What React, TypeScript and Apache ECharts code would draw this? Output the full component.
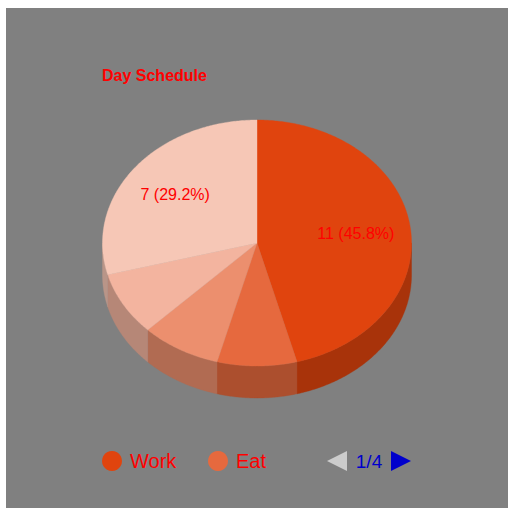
import React, { useEffect, useRef } from "react";
import * as echarts from "echarts";

const categories = ["Work", "Eat", "Commute", "Watch TV", "Sleep"];
const hours = [11, 2, 2, 2, 7];
const topColors = ["#e0440e", "#e6693e", "#ec8f6e", "#f3b49f", "#f6c7b6"];
const sideColors = ["#a8330a", "#ac4f2e", "#b16b52", "#b68777", "#b99588"];
const labelledSlices = ["Work", "Sleep"];
const legendItems = ["Work", "Eat"];
const pageText = "1/4";
const titleText = "Day Schedule";

const FONT = "'Liberation Sans', Arial, sans-serif";
const CX = 257;
const CY = 243;
const RX = 154.5;
const RY = 123;
const DEPTH = 32;
const LABEL_FRACTION = 0.655;
const total = hours.reduce((a, b) => a + b, 0);

function rimPoint(angle: number, dy = 0, f = 1): number[] {
  return [CX + RX * f * Math.sin(angle), CY - RY * f * Math.cos(angle) + dy];
}

function arcPoints(from: number, to: number, dy = 0): number[][] {
  const steps = Math.max(2, Math.ceil(Math.abs(to - from) / 0.01));
  const pts: number[][] = [];
  for (let i = 0; i <= steps; i++) pts.push(rimPoint(from + ((to - from) * i) / steps, dy));
  return pts;
}

function renderSlice(params: any, api: any) {
  const i = params.dataIndex;
  const before = hours.slice(0, i).reduce((a, b) => a + b, 0);
  const value = api.value(0) as number;
  const a0 = (before / total) * Math.PI * 2;
  const a1 = ((before + value) / total) * Math.PI * 2;
  const children: any[] = [];

  const s0 = Math.max(a0, Math.PI / 2);
  const s1 = Math.min(a1, (Math.PI * 3) / 2);
  if (s1 > s0) {
    const upper = arcPoints(s0, s1);
    const lower = arcPoints(s1, s0, DEPTH);
    children.push({
      type: "polygon",
      shape: { points: upper.concat(lower) },
      style: { fill: sideColors[i], stroke: sideColors[i], lineWidth: 0.4 },
    });
  }
  children.push({
    type: "polygon",
    shape: { points: [[CX, CY]].concat(arcPoints(a0, a1)) },
    style: { fill: topColors[i], stroke: topColors[i], lineWidth: 0.4 },
  });
  if (labelledSlices.includes(categories[i])) {
    const mid = (a0 + a1) / 2;
    const [x, y] = rimPoint(mid, 0, LABEL_FRACTION);
    children.push({
      type: "text",
      x: x - 1.5,
      y: y + 1,
      z2: 10,
      style: {
        text: `${value} (${((value / total) * 100).toFixed(1)}%)`,
        fill: "#ff0000",
        font: `16px ${FONT}`,
        textAlign: "center",
        textVerticalAlign: "middle",
      },
    });
  }
  return { type: "group", children };
}

export default function App() {
  const ref = useRef<HTMLDivElement>(null);
  useEffect(() => {
    document.body.style.margin = "0";
    const chart = echarts.init(ref.current!, undefined, { renderer: "svg" });
    const legendX = [112, 218];
    chart.setOption({
      animation: false,
      backgroundColor: "#ffffff",
      graphic: [
        {
          type: "rect",
          z: -10,
          silent: true,
          shape: { x: 6, y: 8, width: 502, height: 500 },
          style: { fill: "#808080" },
        },
        {
          type: "text",
          x: 102,
          y: 75,
          style: {
            text: titleText,
            fill: "#ff0000",
            font: `bold 16px ${FONT}`,
            textVerticalAlign: "middle",
          },
        },
        ...legendItems.flatMap((name, k) => [
          {
            type: "circle",
            shape: { cx: legendX[k], cy: 461, r: 10 },
            style: { fill: topColors[categories.indexOf(name)] },
          },
          {
            type: "text",
            x: legendX[k] + 18,
            y: 461,
            style: {
              text: name,
              fill: "#ff0000",
              font: `20px ${FONT}`,
              textVerticalAlign: "middle",
            },
          },
        ]),
        {
          type: "polygon",
          shape: { points: [[347, 451], [347, 471], [327, 461]] },
          style: { fill: "#cccccc" },
        },
        {
          type: "text",
          x: 369,
          y: 461,
          style: {
            text: pageText,
            fill: "#0000cc",
            font: `19px ${FONT}`,
            textAlign: "center",
            textVerticalAlign: "middle",
          },
        },
        {
          type: "polygon",
          shape: { points: [[391, 451], [391, 471], [411, 461]] },
          style: { fill: "#0000cc" },
        },
      ],
      series: [
        {
          type: "custom",
          coordinateSystem: "none",
          silent: true,
          renderItem: renderSlice,
          data: hours.map((v, i) => ({ name: categories[i], value: [v] })),
        },
      ],
    });
    return () => chart.dispose();
  }, []);
  return <div ref={ref} style={{ width: 515, height: 519, display: "block" }} />;
}
